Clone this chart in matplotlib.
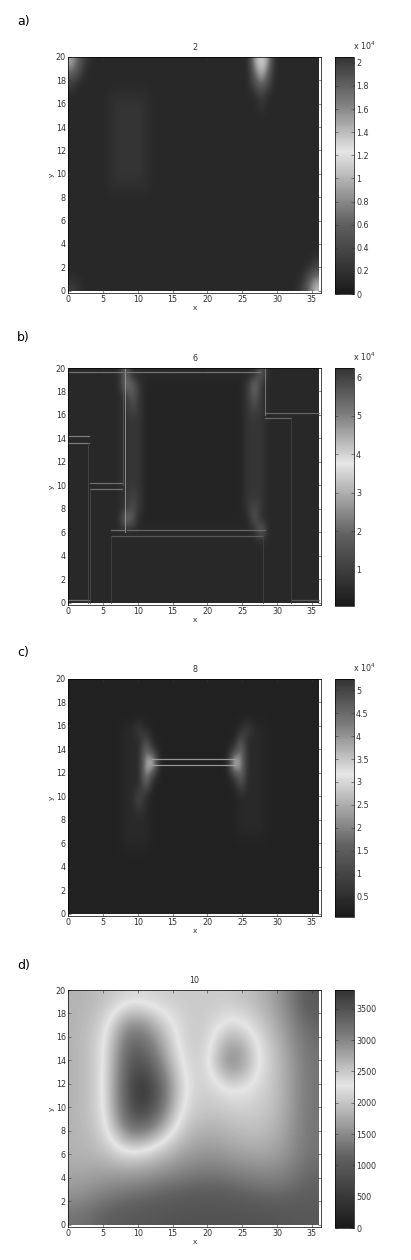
import numpy as np
import matplotlib
matplotlib.use("Agg")
import matplotlib.pyplot as plt
from matplotlib.colors import LinearSegmentedColormap

W, H = 411, 1260
# ---------------- data ----------------
panel_labels = ["a)", "b)", "c)", "d)"]
panel_titles = ["2", "6", "8", "10"]
x_ticks = [0, 5, 10, 15, 20, 25, 30, 35]
y_ticks = [0, 2, 4, 6, 8, 10, 12, 14, 16, 18, 20]

# panel a (x 1e4): background + rectangular patches + point nodes on a 1-unit grid
a_bg = 0.13
a_patches = [(6, 11, 9, 17, 0.19), (7, 10, 10, 16, 0.24)]
a_nodes = [(0, 20, 0.95), (1, 20, 0.6), (0, 19, 0.6), (1, 19, 0.45), (2, 20, 0.3), (0, 18, 0.3),
           (27, 20, 0.9), (29, 20, 0.9), (28, 20, 1.2), (28, 19, 1.05), (28, 18, 0.65), (27, 19, 0.6),
           (29, 19, 0.6), (28, 17, 0.35), (27, 18, 0.4), (29, 18, 0.4), (28, 16, 0.22),
           (36, 0, 1.05), (35, 0, 0.65), (36, 1, 0.6), (35, 1, 0.4), (34, 0, 0.3), (36, 2, 0.3),
           (0, 0, 0.3), (1, 0, 0.22)]
a_vmin, a_vmax = 0.0, 2.05
a_cticks = [0, 0.2, 0.4, 0.6, 0.8, 1, 1.2, 1.4, 1.6, 1.8, 2]

# panel b (x 1e4)
b_bg = 0.45
b_patches = [(9, 27, 7, 19, 0.35), (8, 10, 8, 19, 0.8), (26, 28, 8, 19, 0.8)]
b_nodes = [(8, 19, 2.6), (9, 19, 2.0), (9, 18, 1.8), (9, 17, 1.4), (27, 19, 2.6), (27, 18, 1.9),
           (27, 17, 1.4), (8, 7, 2.6), (9, 7, 1.8), (9, 8, 1.5), (9, 9, 1.2), (28, 6, 2.4),
           (27, 7, 1.8), (27, 8, 1.4), (28, 20, 2.0), (8, 20, 2.0)]
b_hsegs = [(0, 8, 19.7), (8.5, 27.6, 19.7), (0, 3, 14.2), (0, 3, 13.6), (3.2, 7.8, 10.2), (3.2, 7.8, 9.7),
           (6.2, 8, 6.2), (8.5, 28.3, 6.2), (6.2, 28, 5.7), (28.3, 36, 16.2), (28.3, 32, 15.7),
           (0, 3, 0.2), (32, 36, 0.2)]
b_hvals = [2.4, 2.4, 2.6, 2.6, 2.4, 2.4, 2.4, 2.2, 2.0, 2.2, 2.2, 2.4, 2.0]
b_vsegs = [(8.2, 6.0, 20), (7.9, 10, 20), (3.2, 0, 9.7), (2.9, 0, 13.6), (6.2, 0, 5.7),
           (28.2, 16, 20), (28.0, 0, 6.0), (32.0, 0, 15.7)]
b_vvals = [2.8, 1.6, 1.3, 1.3, 1.1, 2.4, 1.1, 1.1]
b_vmin, b_vmax = 0.05, 6.25
b_cticks = [1, 2, 3, 4, 5, 6]

# panel c (x 1e4)
c_bg = 0.25
c_patches = [(8, 11, 6, 16, 0.4), (25, 28, 7, 16, 0.4)]
c_nodes = [(12, 13, 3.3), (11, 13, 2.4), (11, 14, 2.0), (11, 15, 1.3), (10, 16, 0.9), (11, 12, 2.4),
           (11, 11, 1.6), (10, 10, 1.2), (10, 9, 0.8), (24, 13, 3.3), (25, 13, 2.2), (25, 14, 2.0),
           (25, 15, 1.5), (26, 16, 1.0), (25, 12, 1.9), (25, 11, 1.2), (12, 14, 1.0), (12, 12, 1.0),
           (24, 14, 1.0), (24, 12, 1.0)]
c_hsegs = [(12, 24, 13.2), (12, 24, 12.7)]
c_hvals = [2.4, 2.4]
c_vmin, c_vmax = 0.05, 5.25
c_cticks = [0.5, 1, 1.5, 2, 2.5, 3, 3.5, 4, 4.5, 5]

# panel d: coarse grid, rows y = 0..20 step 2, cols x = 0..36 step 4
d_x = [0, 4, 8, 12, 16, 20, 24, 28, 32, 36]
d_y = [0, 2, 4, 6, 8, 10, 12, 14, 16, 18, 20]
d_vals = [
    [1300, 1100, 1000, 950, 900, 900, 900, 900, 950, 1000],
    [1600, 1400, 1300, 1200, 1100, 1050, 1100, 1200, 1250, 1100],
    [1750, 1700, 1700, 1600, 1450, 1350, 1400, 1500, 1500, 1200],
    [1850, 1950, 2400, 2100, 1750, 1600, 1700, 1800, 1700, 1300],
    [1850, 2100, 3400, 3000, 2000, 1800, 1900, 2000, 1800, 1300],
    [1850, 2200, 3750, 3600, 2200, 2000, 2100, 2100, 1900, 1300],
    [1850, 2200, 3800, 3700, 2300, 2000, 2400, 2200, 1900, 1300],
    [1850, 2200, 3700, 3300, 2200, 2000, 3300, 2300, 1900, 1300],
    [1850, 2200, 3500, 3000, 2100, 2000, 3000, 2300, 1800, 1250],
    [1850, 2100, 3100, 2600, 2100, 2000, 2400, 2100, 1700, 1150],
    [1850, 1950, 2200, 2100, 2050, 2050, 2050, 1900, 1600, 1000],
]
d_vmin, d_vmax = 0, 3800
d_cticks = [0, 500, 1000, 1500, 2000, 2500, 3000, 3500]

# ---------------- drawing ----------------
cmap = LinearSegmentedColormap.from_list(
    "dld", [(0, (0.1,) * 3), (0.3, (0.38,) * 3), (0.6, (0.9,) * 3), (0.8, (0.5,) * 3), (1, (0.2,) * 3)])

def grid_from(bg, patches, nodes):
    g = np.full((21, 37), bg)
    for x0, x1, y0, y1, v in patches:
        g[y0:y1 + 1, x0:x1 + 1] = v
    for x, y, v in nodes:
        g[y, x] = v
    return g

fig = plt.figure(figsize=(W / 100, H / 100), dpi=100)
fs = 5.8
axes_px = [(57, 293), (368, 605), (679, 916), (990, 1227)]
label_px = [22, 338, 652, 965]

def px_ax(x0, x1, y0, y1):
    return fig.add_axes([x0 / W, 1 - y1 / H, (x1 - x0) / W, (y1 - y0) / H])

for i in range(4):
    yt, yb = axes_px[i]
    ax = px_ax(68, 321, yt, yb)
    cax = px_ax(335, 354, yt, yb + 1)
    if i == 0:
        img, vmin, vmax, ct = grid_from(a_bg, a_patches, a_nodes), a_vmin, a_vmax, a_cticks
    elif i == 1:
        img, vmin, vmax, ct = grid_from(b_bg, b_patches, b_nodes), b_vmin, b_vmax, b_cticks
    elif i == 2:
        img, vmin, vmax, ct = grid_from(c_bg, c_patches, c_nodes), c_vmin, c_vmax, c_cticks
    else:
        img, vmin, vmax, ct = np.array(d_vals, float), d_vmin, d_vmax, d_cticks
    im = ax.imshow(img, origin="lower", extent=[0, 36, 0, 20], aspect="auto", cmap=cmap,
                   vmin=vmin, vmax=vmax, interpolation="bicubic")
    if i == 1:
        for (x0, x1, y), v in zip(b_hsegs, b_hvals):
            ax.plot([x0, x1], [y, y], color=cmap((v - vmin) / (vmax - vmin)), lw=0.9, alpha=0.8)
        for (x, y0, y1), v in zip(b_vsegs, b_vvals):
            ax.plot([x, x], [y0, y1], color=cmap((v - vmin) / (vmax - vmin)), lw=0.7, alpha=0.8)
    if i == 2:
        for (x0, x1, y), v in zip(c_hsegs, c_hvals):
            ax.plot([x0, x1], [y, y], color=cmap((v - vmin) / (vmax - vmin)), lw=0.9, alpha=0.9)
    ax.set_xlim(0, 36.3)
    ax.set_ylim(-0.2, 20)
    ax.set_xticks(x_ticks)
    ax.set_yticks(y_ticks)
    ax.tick_params(direction="in", length=2, width=0.4, labelsize=fs, pad=1.5,
                   top=True, right=True, colors="#333333")
    ax.set_xlabel("x", fontsize=fs - 0.5, labelpad=1, color="#333")
    ax.set_ylabel("y", fontsize=fs - 0.5, labelpad=1, color="#333")
    ax.set_title(panel_titles[i], fontsize=fs, pad=5, color="#333")
    for s in ax.spines.values():
        s.set_linewidth(0.5)
    cb = fig.colorbar(im, cax=cax, ticks=ct)
    cb.ax.tick_params(direction="in", length=2, width=0.4, labelsize=fs, pad=1.5,
                      left=True, colors="#333333")
    cb.ax.set_yticklabels([("%g" % t) for t in ct])
    cb.outline.set_linewidth(0.5)
    if i < 3:
        cax.text(0.95, 1.02, r"x 10$^4$", transform=cax.transAxes, fontsize=fs,
                 ha="left", va="bottom", color="#333")
    fig.text(17 / W, 1 - label_px[i] / H, panel_labels[i], fontsize=9, ha="left", va="center")

fig.savefig("out.png", dpi=100)
